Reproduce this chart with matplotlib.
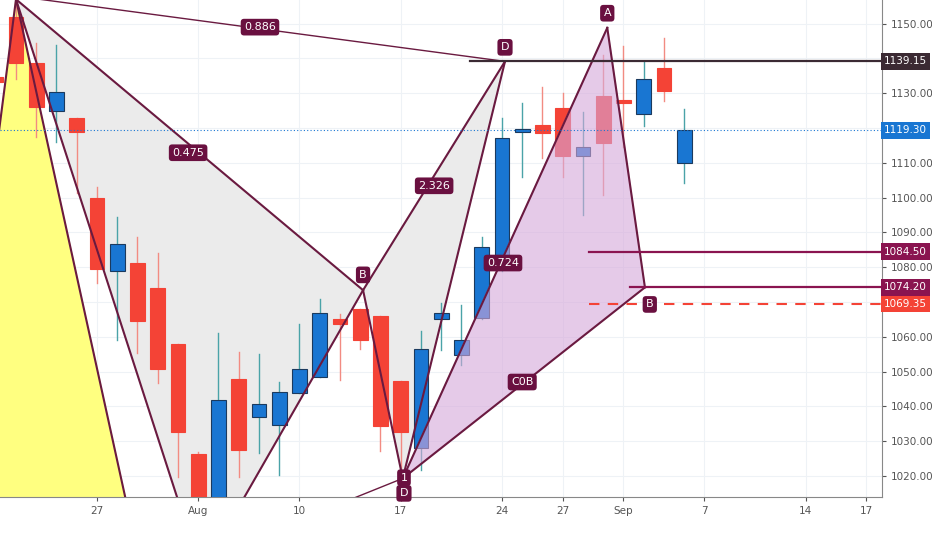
import matplotlib.pyplot as plt
from matplotlib.transforms import blended_transform_factory

# trading-day index (0 = Jul 27) and OHLC
idx = list(range(-5, 30))
opens = [1134.6, 1152.0, 1138.6, 1124.9, 1123.0, 1100.0, 1079.0, 1081.1, 1073.9, 1057.8,
         1026.2, 1010.0, 1048.0, 1037.0, 1034.6, 1043.9, 1048.5, 1065.0, 1068.1, 1065.9,
         1047.2, 1027.9, 1065.0, 1054.9, 1065.3, 1080.0, 1118.9, 1120.9, 1125.7, 1112.0,
         1129.3, 1128.1, 1124.0, 1137.2, 1110.0]
highs = [1135.0, 1156.0, 1144.5, 1143.9, 1123.0, 1103.1, 1094.5, 1088.6, 1084.0, 1057.8,
         1027.0, 1061.1, 1055.7, 1055.0, 1047.0, 1063.8, 1071.0, 1066.5, 1068.1, 1066.0,
         1047.2, 1061.7, 1069.8, 1069.1, 1088.7, 1122.8, 1127.1, 1131.9, 1130.0, 1124.7,
         1141.0, 1143.7, 1139.1, 1145.8, 1125.4]
lows = [1133.0, 1134.1, 1117.4, 1116.1, 1101.3, 1075.4, 1059.0, 1055.2, 1046.7, 1019.7,
        1005.0, 1007.0, 1019.7, 1026.5, 1020.2, 1043.9, 1048.5, 1047.7, 1056.6, 1027.2,
        1019.0, 1021.6, 1056.2, 1052.0, 1065.0, 1079.0, 1106.0, 1111.3, 1106.0, 1095.0,
        1100.7, 1114.6, 1120.6, 1127.9, 1104.3]
closes = [1133.2, 1138.6, 1126.1, 1130.4, 1119.0, 1079.5, 1086.6, 1064.6, 1050.6, 1032.7,
          1008.0, 1041.8, 1027.4, 1040.6, 1044.0, 1050.7, 1066.7, 1063.6, 1059.0, 1034.4,
          1032.7, 1056.6, 1066.7, 1059.0, 1085.7, 1117.0, 1119.6, 1118.5, 1112.0, 1114.6,
          1115.8, 1127.3, 1134.0, 1130.7, 1119.3]

tick_pos = [0, 5, 10, 15, 20, 23, 26, 30, 35, 38]
tick_lbl = ['27', 'Aug', '10', '17', '24', '27', 'Sep', '7', '14', '17']
price_ticks = list(range(1020, 1151, 10))
hidden_ticks = [1070, 1120, 1140]   # covered by the price tags

# harmonic pattern pivots (index, price)
yellow = [(-4.0, 1157.0), (1.73, 1005.0), (-2.67, 1005.0), (-7.0, 1021.6)]
X = (-4.0, 1157.0)
B1 = (13.14, 1073.4)
C1 = (6.4, 1005.0)
L1 = (4.45, 1005.0)
D = (20.15, 1139.15)
P1 = (15.1, 1019.3)
A = (25.2, 1148.8)
B2 = (27.06, 1074.2)
far_left = (-6.3, 1159.7)
low_left = (9.0, 1005.0)

levels = [(1139.15, 18.4, '#3b2a33', '-'), (1084.50, 24.3, '#8a1450', '-'),
          (1074.20, 26.3, '#8a1450', '-'), (1069.35, 24.3, '#f44336', '--')]
last_price = 1119.30

maroon = '#6a1a40'
fig = plt.figure(figsize=(9.32, 5.5), dpi=100)
ax = fig.add_axes([0, 0.0964, 0.9464, 0.9036])
ax.set_xlim(-4.79, 38.77)
ax.set_ylim(1013.96, 1156.8)

for p in price_ticks:
    ax.axhline(p, color='#eef2f6', lw=0.8, zorder=0)
for t in tick_pos:
    ax.axvline(t, color='#eef2f6', lw=0.8, zorder=0)

ax.fill([p[0] for p in yellow], [p[1] for p in yellow], color='#ffff80', zorder=1)
grey1 = [X, B1, C1, L1]
ax.fill([p[0] for p in grey1], [p[1] for p in grey1], color='#ebebeb', zorder=1)
grey2 = [B1, D, P1]
ax.fill([p[0] for p in grey2], [p[1] for p in grey2], color='#ebebeb', zorder=1)

for i, o, h, l, c in zip(idx, opens, highs, lows, closes):
    up = c >= o
    body = '#1976d2' if up else '#f44336'
    wick = '#4aa3a8' if up else '#f28b82'
    ax.plot([i, i], [l, h], color=wick, lw=1, zorder=2)
    ax.bar(i, abs(c - o) or 0.4, bottom=min(o, c), width=0.72, color=body,
           edgecolor='#1b3a5e' if up else body, lw=0.8, zorder=3)

purple = [P1, A, B2]
ax.fill([p[0] for p in purple], [p[1] for p in purple], color='#d5a8da', alpha=0.6, zorder=4)

def seg(a, b, lw=1.5):
    ax.plot([a[0], b[0]], [a[1], b[1]], color=maroon, lw=lw, zorder=5)

seg(yellow[0], yellow[1]); seg(yellow[0], yellow[3]); seg(yellow[2], yellow[3])
seg(X, B1); seg(X, L1); seg(C1, B1); seg(B1, D); seg(B1, P1); seg(P1, D)
seg(far_left, D, 1); seg(low_left, P1, 1)
seg(P1, A); seg(A, B2); seg(P1, B2)

tr = blended_transform_factory(ax.transAxes, ax.transData)
for y, x0, col, ls in levels:
    ax.plot([x0, 38.77], [y, y], color=col, lw=1.6 if ls == '-' else 1.5, ls=ls,
            dashes=(5, 4) if ls == '--' else (None, None), zorder=5)
    ax.text(1.002, y, f'{y:.2f}', transform=tr, ha='left', va='center', fontsize=7.5,
            color='white', clip_on=False,
            bbox=dict(boxstyle='square,pad=0.3', fc=col, ec='none'))
ax.axhline(last_price, color='#1976d2', lw=0.8, ls=(0, (1, 2)), zorder=5)
ax.text(1.002, last_price, f'{last_price:.2f}', transform=tr, ha='left', va='center',
        fontsize=7.5, color='white', clip_on=False,
        bbox=dict(boxstyle='square,pad=0.3', fc='#1976d2', ec='none'))

def tag(x, y, s):
    ax.text(x, y, s, color='white', fontsize=8, ha='center', va='center', zorder=7,
            bbox=dict(boxstyle='round,pad=0.3', fc='#6a1040', ec='none'))

tag(8.05, 1149.0, '0.886')
tag(4.5, 1112.9, '0.475')
tag(16.65, 1103.4, '2.326')
tag(13.14, 1077.8, 'B')
tag(20.15, 1143.2, 'D')
tag(25.2, 1153.0, 'A')
tag(27.3, 1069.3, 'B')
tag(20.05, 1081.2, '0.724')
tag(21.0, 1047.0, 'C0B')
tag(15.16, 1019.5, '1')
tag(15.16, 1015.0, 'D')

ax.set_xticks(tick_pos)
ax.set_xticklabels(tick_lbl)
ax.yaxis.tick_right()
ax.set_yticks(price_ticks)
ax.set_yticklabels(['' if p in hidden_ticks else f'{p:.2f}' for p in price_ticks])
ax.tick_params(labelsize=7.5, colors='#555555', length=3)
for s in ['top', 'left']:
    ax.spines[s].set_visible(False)
for s in ['bottom', 'right']:
    ax.spines[s].set_color('#888888')

fig.savefig('out.png')
